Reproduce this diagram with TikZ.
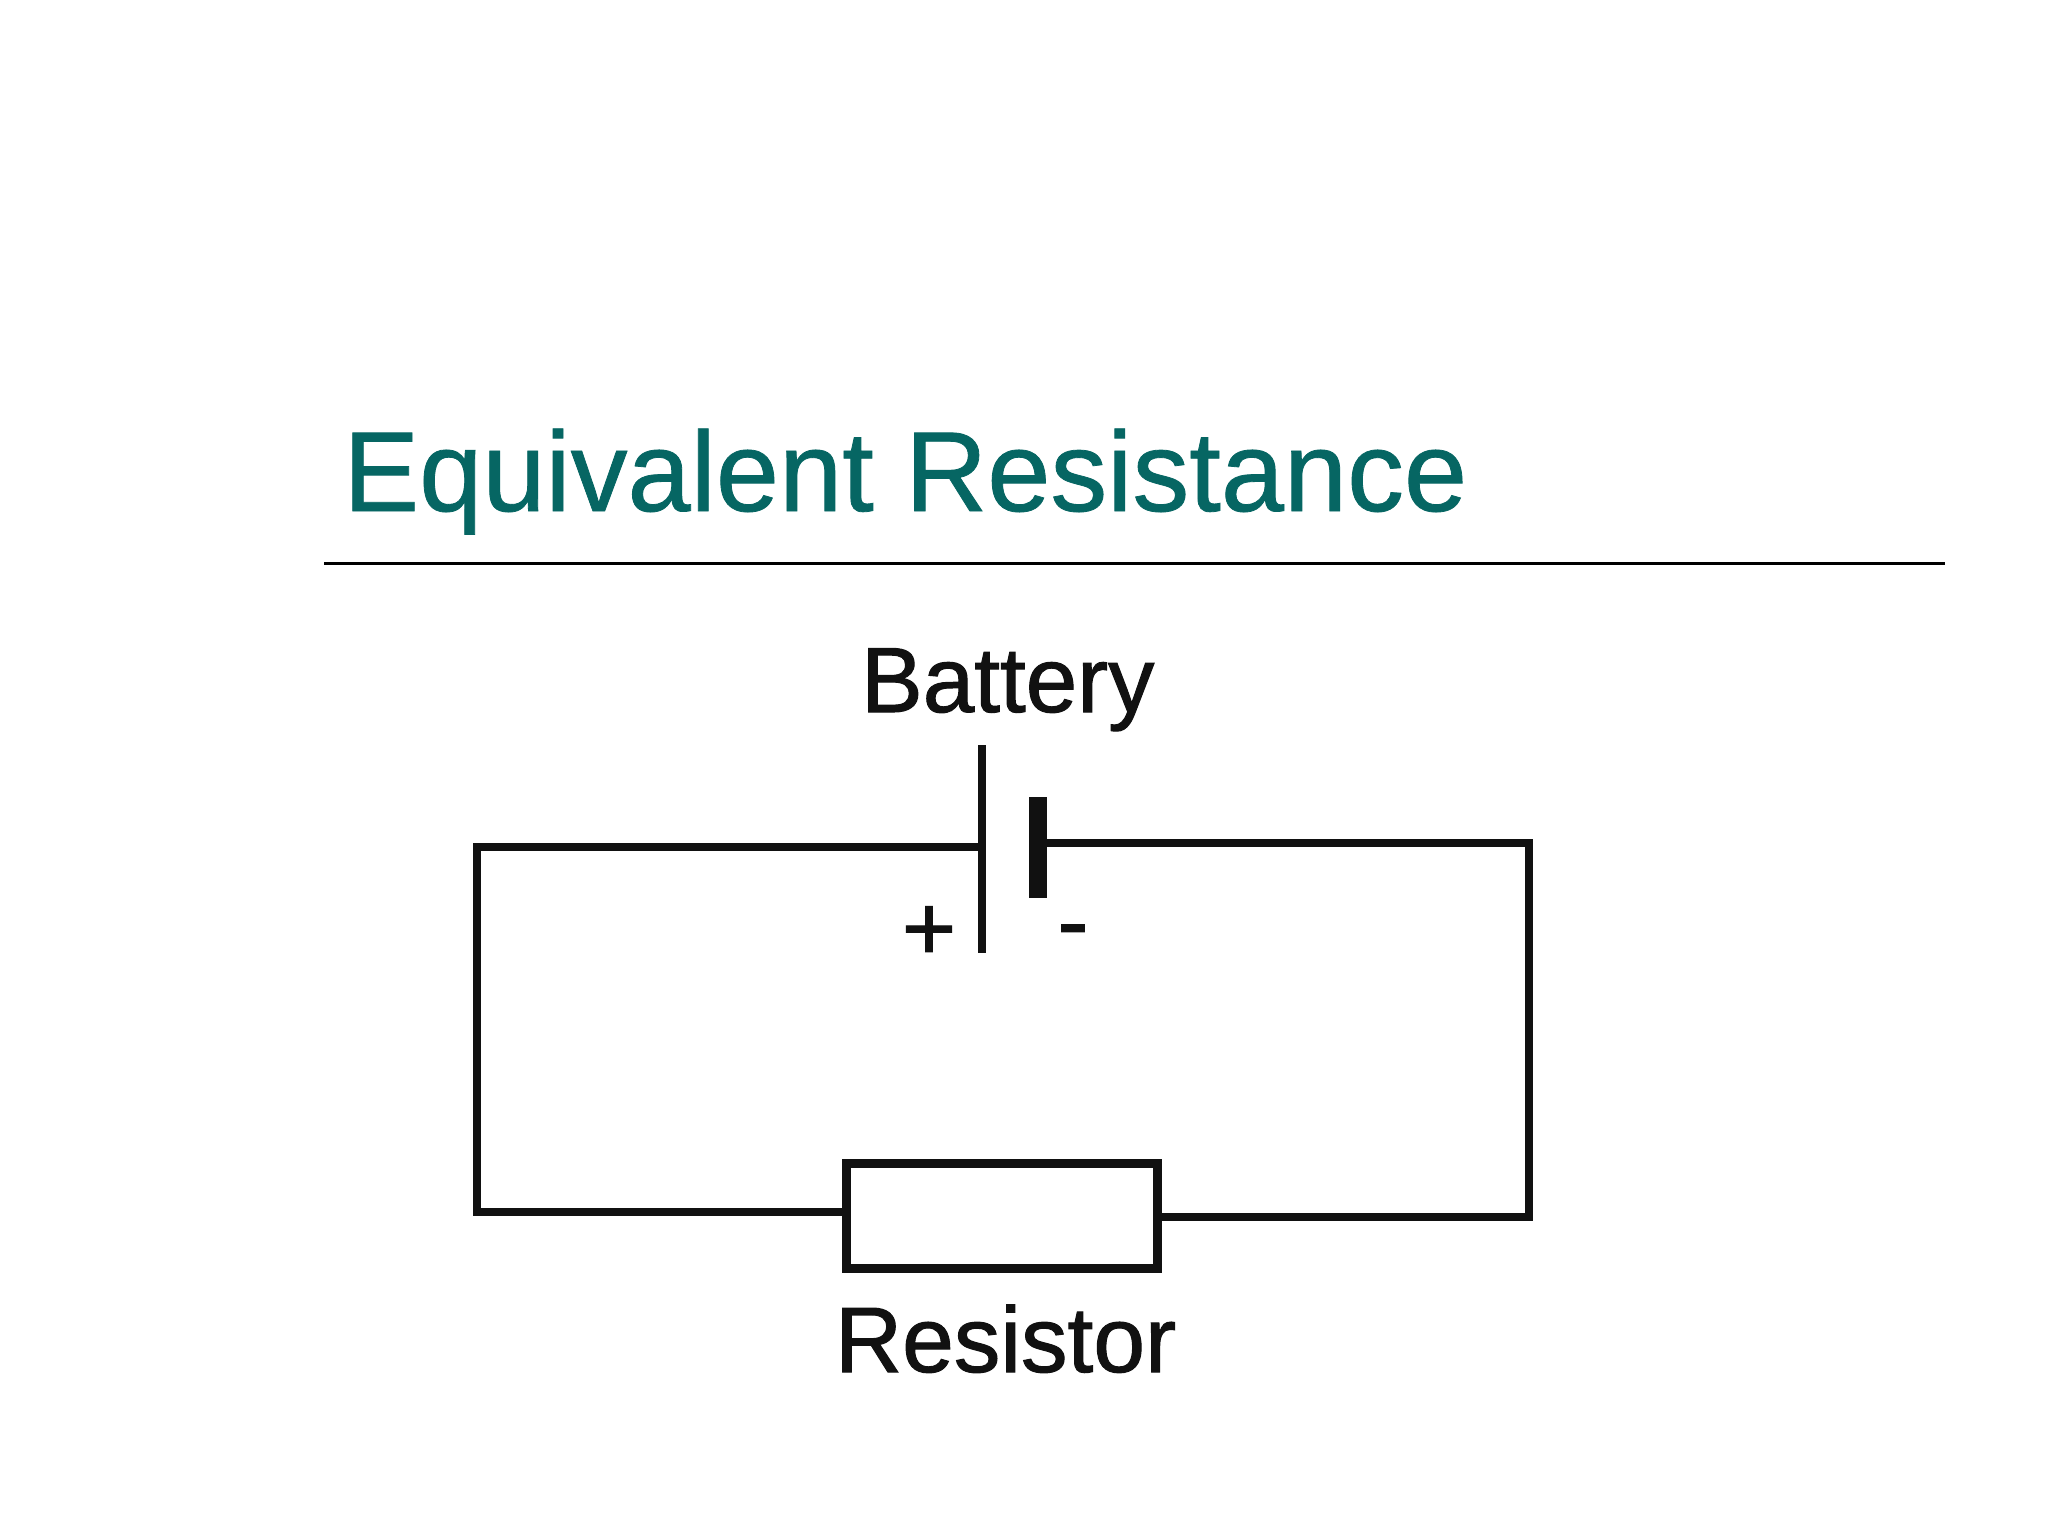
\documentclass[tikz,border=0pt]{standalone}
\usepackage{fontspec}
\setmainfont{Liberation Sans}
\newfontfamily\titlefont[FakeBold=0.7]{Liberation Sans}
\newfontfamily\labelfont[FakeBold=1.1]{Liberation Sans}
\definecolor{titleteal}{HTML}{066663}
\definecolor{ink}{HTML}{111111}
\tikzset{
  px/.style={x=0.5pt,y=-0.5pt},
  wire/.style={draw=ink,line width=3.8pt,line join=miter},
  plate/.style={fill=ink,draw=none,inner sep=0pt,outer sep=0pt,minimum width=#1},
  label/.style={inner sep=0pt,outer sep=0pt,anchor=base west,text=ink},
  resistorbox/.style={draw=ink,line width=4.4pt,fill=white,inner sep=0pt,outer sep=0pt,minimum width=155.5pt,minimum height=52.5pt}
}
\begin{document}
\begin{tikzpicture}[px]
\useasboundingbox (0,0) rectangle (2048,1536);
\fill[white] (0,0) rectangle (2048,1536);
\node[inner sep=0pt,anchor=base west,text=titleteal,font=\titlefont\fontsize{56.8pt}{60pt}\selectfont] (title) at (343,511) {Equivalent Resistance};
\coordinate (ruleL) at (324,563);
\coordinate (ruleR) at (1945,563);
\draw[black,line width=1.5pt] (ruleL) -- (ruleR);
\node[label,font=\labelfont\fontsize{46.3pt}{50pt}\selectfont] (battery) at (861,712) {Battery};
\node[label,font=\labelfont\fontsize{46.5pt}{50pt}\selectfont] (resistorlabel) at (835,1372) {Resistor};
\node[plate=3.8pt,minimum height=104pt] (posplate) at (982,849) {};
\node[plate=9pt,minimum height=50.5pt] (negplate) at (1037.5,847.5) {};
\node[label,anchor=base,font=\labelfont\fontsize{46.5pt}{50pt}\selectfont] (plus) at (929,960) {+};
\node[label,anchor=base,font=\labelfont\fontsize{46.5pt}{50pt}\selectfont] (minus) at (1073,953) {-};
\node[resistorbox] (res) at (1002,1216) {};
\coordinate (posend) at (982,847);
\coordinate (negend) at (1037,843);
\coordinate (tl) at (477,847);
\coordinate (tr) at (1529,843);
\coordinate (bl) at (477,1212);
\coordinate (br) at (1529,1217);
\coordinate (resl) at (846,1212);
\coordinate (resr) at (1158,1217);
\draw[wire] (posend) -- (tl) -- (bl) -- (resl);
\draw[wire] (negend) -- (tr) -- (br) -- (resr);
\end{tikzpicture}
\end{document}
